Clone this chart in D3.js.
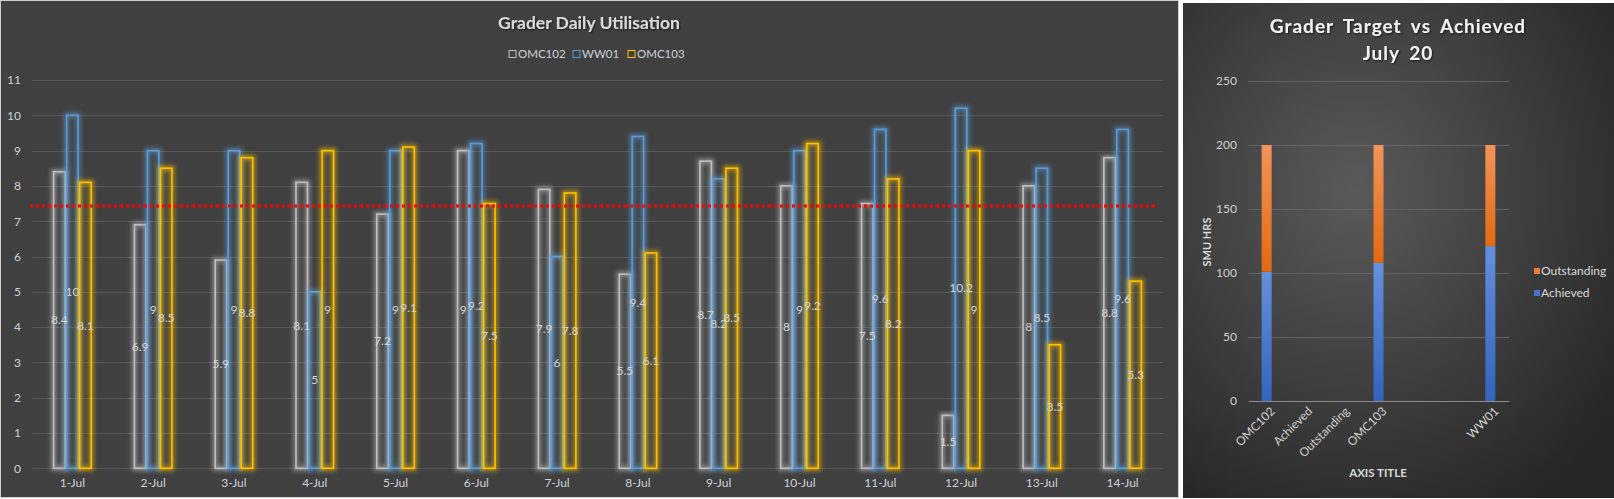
<!DOCTYPE html>
<html>
<head>
<meta charset="utf-8">
<script src="https://cdn.jsdelivr.net/npm/d3@7"></script>
<style>
  html, body { margin: 0; padding: 0; background: #ffffff; }
  svg { display: block; font-family: Lato, "Open Sans", sans-serif; }
</style>
</head>
<body>
<svg id="chart" width="1614" height="499"></svg>
<script>
// left chart data
const days = ["1-Jul","2-Jul","3-Jul","4-Jul","5-Jul","6-Jul","7-Jul","8-Jul","9-Jul","10-Jul","11-Jul","12-Jul","13-Jul","14-Jul"];
const seriesNames = ["OMC102", "WW01", "OMC103"];
const omc102 = [8.4, 6.9, 5.9, 8.1, 7.2, 9, 7.9, 5.5, 8.7, 8, 7.5, 1.5, 8, 8.8];
const ww01   = [10, 9, 9, 5, 9, 9.2, 6, 9.4, 8.2, 9, 9.6, 10.2, 8.5, 9.6];
const omc103 = [8.1, 8.5, 8.8, 9, 9.1, 7.5, 7.8, 6.1, 8.5, 9.2, 8.2, 9, 3.5, 5.3];
const targetLine = 7.43;
const yTicksLeft = [0,1,2,3,4,5,6,7,8,9,10,11];

// right chart data
const rightCats = ["OMC102", "Achieved", "Outstanding", "OMC103", "", "", "WW01"];
const machines = ["OMC102", "OMC103", "WW01"];
const achieved = [101, 108, 121];
const outstanding = [99, 92, 79];
const yTicksRight = [0, 50, 100, 150, 200, 250];

const seriesColors = { OMC102: "#bfbfbf", WW01: "#5b9bd5", OMC103: "#ffc000" };

const svg = d3.select("#chart");
const defs = svg.append("defs");

// glow filters, one per series
seriesNames.forEach(name => {
  const f = defs.append("filter").attr("id", "glow-" + name)
    .attr("x", "-60%").attr("y", "-10%").attr("width", "220%").attr("height", "120%");
  f.append("feMorphology").attr("in", "SourceGraphic").attr("operator", "dilate").attr("radius", 1.5).attr("result", "d");
  f.append("feGaussianBlur").attr("in", "d").attr("stdDeviation", 2.2).attr("result", "b");
  f.append("feComponentTransfer").attr("in", "b").attr("result", "g")
    .append("feFuncA").attr("type", "linear").attr("slope", 0.55);
  const m = f.append("feMerge");
  m.append("feMergeNode").attr("in", "g");
  m.append("feMergeNode").attr("in", "SourceGraphic");
});

const tg = defs.append("filter").attr("id", "textglow").attr("x", "-10%").attr("y", "-30%").attr("width", "120%").attr("height", "160%");
tg.append("feGaussianBlur").attr("in", "SourceAlpha").attr("stdDeviation", 1.2).attr("result", "b");
tg.append("feOffset").attr("in", "b").attr("dx", 1).attr("dy", 1).attr("result", "o");
tg.append("feComponentTransfer").attr("in", "o").attr("result", "s")
  .append("feFuncA").attr("type", "linear").attr("slope", 0.6);
const tm = tg.append("feMerge");
tm.append("feMergeNode").attr("in", "s");
tm.append("feMergeNode").attr("in", "SourceGraphic");

// right panel background + bar gradients
const rg = defs.append("radialGradient").attr("id", "panelBg")
  .attr("cx", "40%").attr("cy", "38%").attr("r", "75%");
rg.append("stop").attr("offset", "0%").attr("stop-color", "#5a5a5a");
rg.append("stop").attr("offset", "100%").attr("stop-color", "#262626");

function vGrad(id, top, bottom) {
  const g = defs.append("linearGradient").attr("id", id).attr("x1", 0).attr("y1", 0).attr("x2", 0).attr("y2", 1);
  g.append("stop").attr("offset", "0%").attr("stop-color", top);
  g.append("stop").attr("offset", "100%").attr("stop-color", bottom);
}
vGrad("gAch", "#6490dc", "#3363be");
vGrad("gOut", "#f3935a", "#e2690f");

// ---------- LEFT CHART ----------
svg.append("rect").attr("x", 0.5).attr("y", 0.5).attr("width", 1178).attr("height", 497)
  .attr("fill", "#404040").attr("stroke", "#cfcfcf");

const left = svg.append("g");
const x0 = d3.scaleBand().domain(days).range([32, 1163]).paddingInner(0.517).paddingOuter(0.2585);
const x1 = d3.scaleBand().domain(seriesNames).range([0, x0.bandwidth()]);
const y = d3.scaleLinear().domain([0, 11]).range([468.3, 80]);

left.append("g").selectAll("line").data(yTicksLeft).enter().append("line")
  .attr("x1", 32).attr("x2", 1163)
  .attr("y1", d => Math.round(y(d)) + 0.5).attr("y2", d => Math.round(y(d)) + 0.5)
  .attr("stroke", "#585858").attr("stroke-width", 1);

const yAxisL = left.append("g").attr("transform", "translate(32,0)")
  .call(d3.axisLeft(y).tickValues(yTicksLeft).tickSize(0).tickPadding(11));
yAxisL.select(".domain").remove();
yAxisL.selectAll("text").attr("fill", "#cdd2d8").attr("font-size", 12).attr("font-family", "Lato, sans-serif");

const xAxisL = left.append("g").attr("transform", "translate(0,469)")
  .call(d3.axisBottom(x0).tickSize(0).tickPadding(9));
xAxisL.select(".domain").remove();
xAxisL.selectAll("text").attr("fill", "#cdd2d8").attr("font-size", 12).attr("font-family", "Lato, sans-serif");

const allSeries = { OMC102: omc102, WW01: ww01, OMC103: omc103 };
const barData = [];
days.forEach((d, i) => seriesNames.forEach(s => barData.push({ day: d, s: s, v: allSeries[s][i] })));

left.append("g").selectAll("rect").data(barData).enter().append("rect")
  .attr("x", d => x0(d.day) + x1(d.s) + 0.75)
  .attr("y", d => y(d.v))
  .attr("width", x1.bandwidth() - 1.5)
  .attr("height", d => y(0) - y(d.v))
  .attr("fill", "none")
  .attr("stroke", d => seriesColors[d.s])
  .attr("stroke-width", 1.6)
  .attr("filter", d => `url(#glow-${d.s})`);

left.append("g").selectAll("text").data(barData).enter().append("text")
  .attr("x", d => x0(d.day) + x1(d.s) + x1.bandwidth() / 2)
  .attr("y", d => y(d.v / 2))
  .attr("dy", "0.35em")
  .attr("text-anchor", "middle")
  .attr("font-size", 12)
  .attr("fill", "#d4d4d4")
  .text(d => d.v);

// target line
left.append("line")
  .attr("x1", 30).attr("x2", 1156)
  .attr("y1", y(targetLine)).attr("y2", y(targetLine))
  .attr("stroke", "#ff0000").attr("stroke-width", 3).attr("stroke-dasharray", "3 3");

left.append("text").attr("x", 589).attr("y", 29).attr("text-anchor", "middle")
  .attr("font-size", 17.5).attr("font-weight", "bold").attr("fill", "#d9d9d9")
  .attr("filter", "url(#textglow)")
  .text("Grader Daily Utilisation");

// legend
const legX = [509, 573, 628];
const leg = left.append("g").selectAll("g").data(seriesNames).enter().append("g")
  .attr("transform", (d, i) => `translate(${legX[i]},54)`);
leg.append("rect").attr("x", 0).attr("y", -3.5).attr("width", 7).attr("height", 7)
  .attr("fill", "none").attr("stroke", d => seriesColors[d]).attr("stroke-width", 1);
leg.append("text").attr("x", 9).attr("dy", "0.35em").attr("font-size", 11.5).attr("fill", "#cdd2d8").text(d => d);

// ---------- RIGHT CHART ----------
svg.append("rect").attr("x", 1183).attr("y", 3).attr("width", 431).attr("height", 495).attr("fill", "url(#panelBg)");

const right = svg.append("g");
const xr = d3.scaleBand().domain(d3.range(rightCats.length)).range([1248, 1509]).paddingInner(0.732).paddingOuter(0.366);
const yr = d3.scaleLinear().domain([0, 250]).range([401, 81]);

right.append("g").selectAll("line").data(yTicksRight.slice(1)).enter().append("line")
  .attr("x1", 1248).attr("x2", 1509)
  .attr("y1", d => Math.round(yr(d)) + 0.5).attr("y2", d => Math.round(yr(d)) + 0.5)
  .attr("stroke", "#626262").attr("stroke-width", 1);

const yAxisR = right.append("g").attr("transform", "translate(1248,0)")
  .call(d3.axisLeft(yr).tickValues(yTicksRight).tickSize(0).tickPadding(11));
yAxisR.select(".domain").remove();
yAxisR.selectAll("text").attr("fill", "#d0d0d0").attr("font-size", 12).attr("font-family", "Lato, sans-serif");

const xAxisR = right.append("g").attr("transform", "translate(0,401)")
  .call(d3.axisBottom(xr).tickSize(0).tickPadding(0).tickFormat(i => rightCats[i]));
xAxisR.select(".domain").attr("stroke", "#8c8c8c");
xAxisR.selectAll("text")
  .attr("fill", "#d0d0d0").attr("font-size", 12).attr("font-family", "Lato, sans-serif")
  .attr("text-anchor", "end")
  .attr("transform", "translate(6,8) rotate(-45)")
  .attr("dy", "0.35em");

const stackData = machines.map((m, i) => ({ m: m, a: achieved[i], o: outstanding[i] }));
right.append("g").selectAll("rect").data(stackData).enter().append("rect")
  .attr("x", d => xr(rightCats.indexOf(d.m)))
  .attr("width", xr.bandwidth())
  .attr("y", d => yr(d.a))
  .attr("height", d => yr(0) - yr(d.a))
  .attr("fill", "url(#gAch)");
right.append("g").selectAll("rect").data(stackData).enter().append("rect")
  .attr("x", d => xr(rightCats.indexOf(d.m)))
  .attr("width", xr.bandwidth())
  .attr("y", d => yr(d.a + d.o))
  .attr("height", d => yr(d.a) - yr(d.a + d.o))
  .attr("fill", "url(#gOut)");

right.append("text").attr("x", 1398).attr("y", 33).attr("text-anchor", "middle")
  .attr("font-size", 19).attr("font-weight", "bold").attr("fill", "#f2f2f2")
  .attr("letter-spacing", 1).attr("word-spacing", 4).attr("filter", "url(#textglow)")
  .text("Grader Target vs Achieved");
right.append("text").attr("x", 1398).attr("y", 60).attr("text-anchor", "middle")
  .attr("font-size", 19).attr("font-weight", "bold").attr("fill", "#f2f2f2")
  .attr("letter-spacing", 1).attr("word-spacing", 4).attr("filter", "url(#textglow)")
  .text("July 20");

right.append("text").attr("transform", "translate(1207,242) rotate(-90)")
  .attr("text-anchor", "middle").attr("dy", "0.35em")
  .attr("font-size", 11).attr("font-weight", "bold").attr("fill", "#d9d9d9")
  .text("SMU HRS");
right.append("text").attr("x", 1378).attr("y", 473).attr("text-anchor", "middle").attr("dy", "0.35em")
  .attr("font-size", 11.5).attr("font-weight", "bold").attr("fill", "#d9d9d9")
  .text("AXIS TITLE");

const legR = right.append("g").selectAll("g")
  .data([{ k: "Outstanding", c: "#ed7d31" }, { k: "Achieved", c: "#4472c4" }]).enter().append("g")
  .attr("transform", (d, i) => `translate(1534,${271 + i * 22})`);
legR.append("rect").attr("x", 0).attr("y", -3).attr("width", 6).attr("height", 6).attr("fill", d => d.c);
legR.append("text").attr("x", 7).attr("dy", "0.35em").attr("font-size", 12).attr("fill", "#d9d9d9").text(d => d.k);
</script>
</body>
</html>
